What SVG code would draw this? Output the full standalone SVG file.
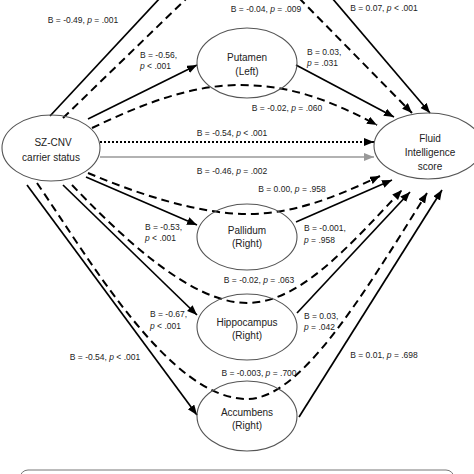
<svg xmlns="http://www.w3.org/2000/svg" width="474" height="474" viewBox="0 0 474 474">
<style>
.node{fill:#fff;stroke:#555;stroke-width:1.1}
.nt{font-family:"Liberation Sans",Arial,sans-serif;font-size:10px;fill:#222;text-anchor:middle}
.lb{font-family:"Liberation Sans",Arial,sans-serif;font-size:8.5px;fill:#222}
.mid{text-anchor:middle}
.it{font-style:italic}
.s{fill:none;stroke:#000;stroke-width:1.7}
.d{fill:none;stroke:#000;stroke-width:2;stroke-dasharray:8,5}
.o{fill:none;stroke:#000;stroke-width:2.2;stroke-dasharray:2,2}
.g{fill:none;stroke:#999;stroke-width:1.7}
</style>
<defs>
<marker id="ah" markerUnits="userSpaceOnUse" markerWidth="11" markerHeight="9" refX="10" refY="4" orient="auto"><path d="M0,0 L10,4 L0,8 z" fill="#000"/></marker>
<marker id="ahg" markerUnits="userSpaceOnUse" markerWidth="11" markerHeight="9" refX="10" refY="4" orient="auto"><path d="M0,0 L10,4 L0,8 z" fill="#999"/></marker>
</defs>
<rect width="474" height="474" fill="#fff"/>
<g id="connectors">
<path class="s" d="M50,116 L160,-2"/>
<path class="d" d="M63,118 L187,-2"/>
<path class="d" d="M299,-2 L412,113" marker-end="url(#ah)"/>
<path class="s" d="M332,-2 L430,113" marker-end="url(#ah)"/>
<path class="s" d="M88,119 L197,65" marker-end="url(#ah)"/>
<path class="d" d="M92,128 C140,105 190,85 240,85 C290,85 330,100 377,125" marker-end="url(#ah)"/>
<path class="s" d="M296,65 L394,117" marker-end="url(#ah)"/>
<path class="o" d="M100,142 L374,142" marker-end="url(#ah)"/>
<path class="g" d="M100,157 L374,157" marker-end="url(#ahg)"/>
<path class="d" d="M88,173 C140,195 200,214 247,214 C290,214 330,200 380,176" marker-end="url(#ah)"/>
<path class="s" d="M86,177 L197,225" marker-end="url(#ah)"/>
<path class="s" d="M296,222 L392,180" marker-end="url(#ah)"/>
<path class="s" d="M63,185 L197,315" marker-end="url(#ah)"/>
<path class="d" d="M72,185 C120,235 190,303 247,303 C300,303 350,245 402,190" marker-end="url(#ah)"/>
<path class="s" d="M297,313 L410,192" marker-end="url(#ah)"/>
<path class="s" d="M27,185 L197,415" marker-end="url(#ah)"/>
<path class="d" d="M37,183 C90,260 170,399 247,399 C300,399 360,300 427,193" marker-end="url(#ah)"/>
<path class="s" d="M299,417 L442,190" marker-end="url(#ah)"/>
</g>
<g id="node-sz">
<ellipse class="node" cx="51" cy="148" rx="49" ry="33" style="fill:none"/>
<text class="nt" x="53" y="146">SZ-CNV</text>
<text class="nt" x="51" y="161">carrier status</text>
</g>
<g id="node-fluid">
<ellipse class="node" cx="428" cy="146" rx="54" ry="33" style="fill:none"/>
<text class="nt" x="430" y="142">Fluid</text>
<text class="nt" x="430" y="156">Intelligence</text>
<text class="nt" x="430" y="170">score</text>
</g>
<g id="node-putamen">
<ellipse class="node" cx="247" cy="63" rx="50" ry="35" style="fill:none"/>
<text class="nt" x="247" y="61">Putamen</text>
<text class="nt" x="247" y="75">(Left)</text>
</g>
<g id="node-pallidum">
<ellipse class="node" cx="247" cy="237" rx="50" ry="33" style="fill:none"/>
<text class="nt" x="247" y="234">Pallidum</text>
<text class="nt" x="247" y="247">(Right)</text>
</g>
<g id="node-hippocampus">
<ellipse class="node" cx="247" cy="327" rx="50" ry="33" style="fill:none"/>
<text class="nt" x="247" y="326">Hippocampus</text>
<text class="nt" x="247" y="339">(Right)</text>
</g>
<g id="node-accumbens">
<ellipse class="node" cx="247" cy="416" rx="50" ry="35" style="fill:none"/>
<text class="nt" x="247" y="416">Accumbens</text>
<text class="nt" x="247" y="429">(Right)</text>
</g>
<g id="labels">
<text class="lb mid" x="83" y="23">B = -0.49, <tspan class="it">p</tspan> = .001</text>
<text class="lb mid" x="266" y="12">B = -0.04, <tspan class="it">p</tspan> = .009</text>
<text class="lb mid" x="384" y="11">B = 0.07, <tspan class="it">p</tspan> &lt; .001</text>
<text class="lb" x="140" y="58">B = -0.56,</text>
<text class="lb" x="140" y="69"><tspan class="it">p</tspan> &lt; .001</text>
<text class="lb" x="307" y="55">B = 0.03,</text>
<text class="lb" x="307" y="66"><tspan class="it">p</tspan> = .031</text>
<text class="lb mid" x="287" y="111">B = -0.02, <tspan class="it">p</tspan> = .060</text>
<text class="lb mid" x="232" y="136">B = -0.54, <tspan class="it">p</tspan> &lt; .001</text>
<text class="lb mid" x="232" y="174">B = -0.46, <tspan class="it">p</tspan> = .002</text>
<text class="lb mid" x="292" y="192">B = 0.00, <tspan class="it">p</tspan> = .958</text>
<text class="lb" x="145" y="230">B = -0.53,</text>
<text class="lb" x="145" y="241"><tspan class="it">p</tspan> &lt; .001</text>
<text class="lb" x="304" y="231">B = -0.001,</text>
<text class="lb" x="304" y="243"><tspan class="it">p</tspan> = .958</text>
<text class="lb mid" x="259" y="283">B = -0.02, <tspan class="it">p</tspan> = .063</text>
<text class="lb" x="150" y="317">B = -0.67,</text>
<text class="lb" x="150" y="329"><tspan class="it">p</tspan> &lt; .001</text>
<text class="lb" x="304" y="319">B = 0.03,</text>
<text class="lb" x="304" y="330"><tspan class="it">p</tspan> = .042</text>
<text class="lb mid" x="105" y="360">B = -0.54, <tspan class="it">p</tspan> &lt; .001</text>
<text class="lb mid" x="384" y="358">B = 0.01, <tspan class="it">p</tspan> = .698</text>
<text class="lb mid" x="259" y="376">B = -0.003, <tspan class="it">p</tspan> = .700</text>
</g>
<rect x="20" y="470" width="434" height="30" rx="8" fill="none" stroke="#777" stroke-width="1"/>
</svg>
